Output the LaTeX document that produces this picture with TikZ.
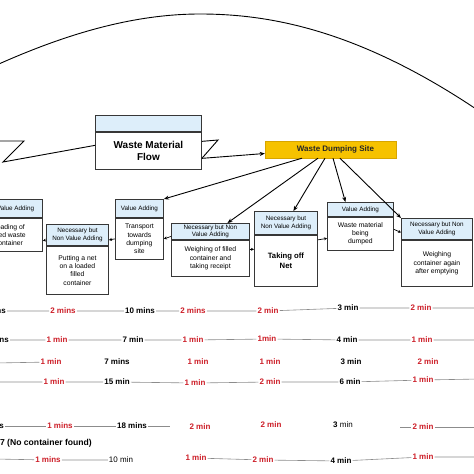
\documentclass[tikz,border=0pt]{standalone}
\usepackage{fontspec}
\setmainfont{Liberation Sans}
\usetikzlibrary{arrows.meta}
\definecolor{hdr}{RGB}{221,238,250}
\definecolor{edgec}{RGB}{55,55,55}
\definecolor{gold}{RGB}{246,194,0}
\definecolor{golddark}{RGB}{215,165,0}
\definecolor{redt}{RGB}{205,30,40}
\definecolor{tl}{RGB}{140,140,140}
\begin{document}
\begin{tikzpicture}[x=1pt,y=-1pt,
 hdrbox/.style={draw=edgec, line width=0.9pt, fill=hdr, anchor=north west, inner sep=0pt, align=center, font=\fontsize{6.3}{7.6}\selectfont},
 bodybox/.style={draw=edgec, line width=0.9pt, fill=white, anchor=north, inner sep=0pt, align=center, font=\fontsize{6.8}{8.2}\selectfont},
 arr/.style={-{Stealth[length=5pt,width=4pt]}, line width=0.9pt},
 arrs/.style={-{Stealth[length=3pt,width=3pt]}, line width=0.7pt},
 bolt/.style={line width=0.9pt, line join=miter},
 tred/.style={text=redt, font=\bfseries\fontsize{8}{9}\selectfont, inner sep=1pt},
 tblk/.style={text=black, font=\bfseries\fontsize{8}{9}\selectfont, inner sep=1pt},
 tline/.style={draw=tl, line width=0.6pt}]
\useasboundingbox (0,0) rectangle (474,474);
\clip (0,0) rectangle (474,474);
\fill[white] (0,0) rectangle (474,474);

% big arc
\coordinate (arcL) at (-10,68);
\coordinate (arcT) at (200,14);
\coordinate (arcR) at (482,113);
\draw[line width=0.9pt] (arcL) .. controls (60,36) and (130,14) .. (arcT) .. controls (270,14) and (360,30) .. (arcR);

% waste material flow
\node[hdrbox, minimum width=106, minimum height=16] (hw) at (95,115) {};
\node[bodybox, minimum width=106, minimum height=37, font=\bfseries\fontsize{10}{11.5}\selectfont] (bw) at (hw.south) {Waste Material\\Flow};

% waste dumping site
\node[draw=golddark, fill=gold, minimum width=131, minimum height=17, inner sep=0pt, font=\bfseries\fontsize{8}{9}\selectfont, text=black!85] (wds) at (330.5,149.5) {\hspace{10pt}Waste Dumping Site};

% lightning bolts
\coordinate (zl1) at (24,141);
\coordinate (zl2) at (3,162);
\coordinate (zl0) at (-5,141);
\draw[bolt] ([yshift=5.5pt]bw.west) -- (zl2) -- (zl1) -- (zl0);
\coordinate (zr1) at (218,140);
\draw[bolt] ([yshift=9.5pt]bw.east) -- (zr1) -- ([yshift=-7.5pt]bw.east);
\draw[arr] ([yshift=-7.5pt]bw.east) -- ([yshift=-4pt]wds.west);

% process boxes
\node[hdrbox, minimum width=67, minimum height=18] (h1) at (-25,199) {Non Value Adding};
\node[bodybox, minimum width=67, minimum height=33] (b1) at (h1.south) {Loading of\\filled waste\\container};

\node[hdrbox, minimum width=62, minimum height=21] (h2) at (46,224) {Necessary but\\Non Value Adding};
\node[bodybox, minimum width=62, minimum height=48] (b2) at (h2.south) {Putting a net\\on a loaded\\filled\\container};

\node[hdrbox, minimum width=48, minimum height=18] (h3) at (115,199) {Value Adding};
\node[bodybox, minimum width=48, minimum height=41] (b3) at (h3.south) {Transport\\towards\\dumping\\site};

\node[hdrbox, minimum width=78, minimum height=16] (h4) at (171,223) {Necessary but Non\\Value Adding};
\node[bodybox, minimum width=78, minimum height=36] (b4) at (h4.south) {Weighing of filled\\container and\\taking receipt};

\node[hdrbox, minimum width=63, minimum height=23] (h5) at (254,211) {Necessary but\\Non Value Adding};
\node[bodybox, minimum width=63, minimum height=51, font=\bfseries\fontsize{7.7}{10}\selectfont] (b5) at (h5.south) {Taking off\\Net};

\node[hdrbox, minimum width=66, minimum height=14] (h6) at (327,202) {Value Adding};
\node[bodybox, minimum width=66, minimum height=33] (b6) at (h6.south) {Waste material\\being\\dumped};

\node[hdrbox, minimum width=71, minimum height=21] (h7) at (401,218) {Necessary but Non\\Value Adding};
\node[bodybox, minimum width=71, minimum height=46] (b7) at (h7.south) {Weighing\\container again\\after emptying};

% arrows from dumping site
\draw[arr] ([xshift=-28.5pt]wds.south) -- (h3.north east);
\draw[arr] ([xshift=-12.5pt]wds.south) -- ([xshift=17pt]h4.north);
\draw[arr] ([xshift=-5.5pt]wds.south) -- ([xshift=7.5pt]h5.north);
\draw[arr] ([xshift=2.5pt]wds.south) -- ([xshift=-15pt]h6.north);
\draw[arr] ([xshift=9.5pt]wds.south) -- (h7.north west);

% arrows between boxes
\draw[arrs] ([yshift=-5pt]h2.west) -- ([yshift=-6pt]b1.east);
\draw[arrs] (b3.west) -- ([yshift=-5pt]h2.east);
\draw[arrs] ([yshift=-5pt]h4.west) -- (b3.east);
\draw[arrs] ([yshift=9pt]b4.east) -- ([yshift=11.5pt]b5.west);
\draw[arrs] ([yshift=-5pt]h5.south east) -- ([yshift=-4.5pt]b6.west);
\draw[arrs] ([yshift=4.5pt]b6.east) -- ([yshift=-3.5pt]h7.west);

% timeline row 1
\node[tblk, anchor=east] (r1a) at (7,311) {mins};
\node[tred] (r1b) at (63,311) {2 mins};
\node[tblk] (r1c) at (140,311) {10 mins};
\node[tred] (r1d) at (193,311) {2 mins};
\node[tred] (r1e) at (268,311) {2 min};
\node[tblk] (r1f) at (348,308) {3 min};
\node[tred] (r1g) at (421,308) {2 min};
\coordinate (r1z) at (480,308);
\draw[tline] (r1a) -- (r1b) -- (r1c) -- (r1d) -- (r1e) -- (r1f) -- (r1g) -- (r1z);

% row 2
\node[tblk, anchor=east] (r2a) at (10,340) {mins};
\node[tred] (r2b) at (57,340) {1 min};
\node[tblk] (r2c) at (133,340) {7 min};
\node[tred] (r2d) at (193,340) {1 min};
\node[tred] (r2e) at (267,339) {1min};
\node[tblk] (r2f) at (347,340) {4 min};
\node[tred] (r2g) at (422,340) {1 min};
\coordinate (r2z) at (480,340);
\draw[tline] (r2a) -- (r2b) -- (r2c) -- (r2d) -- (r2e) -- (r2f) -- (r2g) -- (r2z);

% row 3
\coordinate (r3s) at (-5,363);
\node[tred] (r3a) at (51,362) {1 min};
\node[tblk] (r3b) at (117,362) {7 mins};
\node[tred] (r3c) at (198,362) {1 min};
\node[tred] (r3d) at (270,362) {1 min};
\node[tblk] (r3e) at (351,362) {3 min};
\node[tred] (r3f) at (428,362) {2 min};
\draw[tline] (r3s) -- (r3a);

% row 4
\coordinate (r4s) at (-5,382);
\node[tred] (r4a) at (54,382) {1 min};
\node[tblk] (r4b) at (117,382) {15 min};
\node[tred] (r4c) at (195,383) {1 min};
\node[tred] (r4d) at (270,382) {2 min};
\node[tblk] (r4e) at (350,382) {6 min};
\node[tred] (r4f) at (423,380) {1 min};
\coordinate (r4z) at (480,379);
\draw[tline] (r4s) -- (r4a) -- (r4b) -- (r4c) -- (r4d) -- (r4e) -- (r4f) -- (r4z);

% row 5
\node[tblk, anchor=east] (r5a) at (5,426) {mins};
\node[tred] (r5b) at (60,426) {1 mins};
\node[tblk] (r5c) at (132,426) {18 mins};
\coordinate (r5m) at (170,426);
\node[tred] (r5d) at (200,427) {2 min};
\node[tred] (r5e) at (271,425) {2 min};
\node[font=\fontsize{8}{9}\selectfont, inner sep=1pt] (r5f) at (343,425) {{\bfseries 3} min};
\coordinate (r5n) at (400,427);
\node[tred] (r5g) at (423,427) {2 min};
\coordinate (r5z) at (480,427);
\draw[tline] (r5a) -- (r5b) -- (r5c) -- (r5m);
\draw[tline] (r5n) -- (r5g) -- (r5z);

\node[tblk, anchor=east, font=\bfseries\fontsize{8.6}{10}\selectfont] (trip7) at (93,443) {Trip 7 (No container found)};

% row 6
\coordinate (r6s) at (-5,459);
\node[tred] (r6a) at (48,460) {1 mins};
\node[font=\fontsize{8}{9}\selectfont, inner sep=1pt] (r6b) at (121,460) {10 min};
\node[tred] (r6c) at (196,458) {1 min};
\node[tred] (r6d) at (263,460) {2 min};
\node[tblk] (r6e) at (341,461) {4 min};
\node[tred] (r6f) at (423,457) {1 min};
\coordinate (r6z) at (480,457);
\draw[tline] (r6s) -- (r6a) -- (r6b);
\draw[tline] (r6c) -- (r6d) -- (r6e) -- (r6f) -- (r6z);
\end{tikzpicture}
\end{document}
